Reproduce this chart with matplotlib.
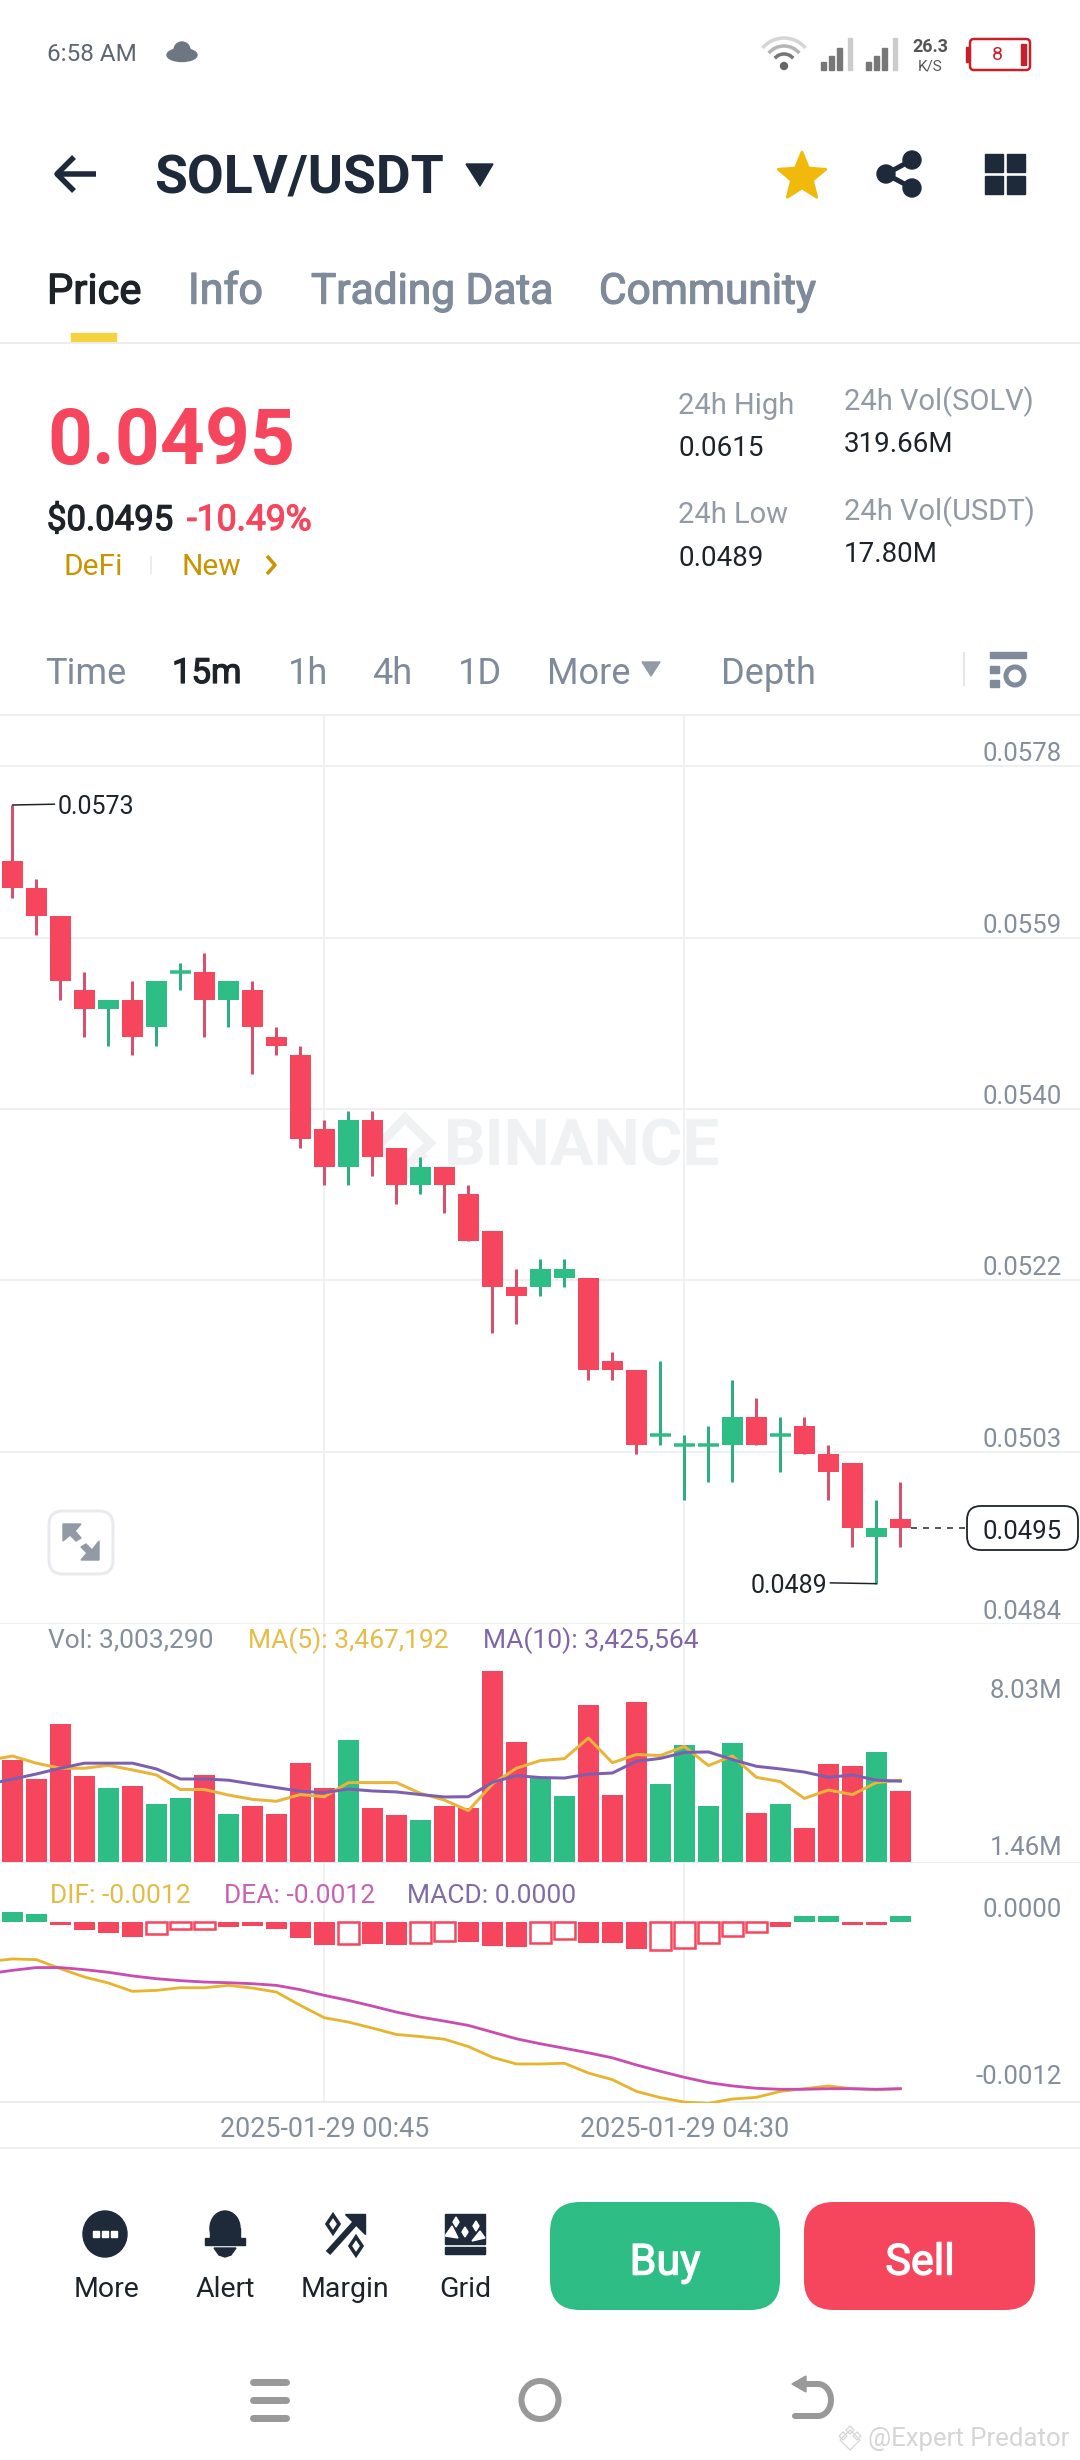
import numpy as np
import matplotlib
matplotlib.use('Agg')
import matplotlib.pyplot as plt
import matplotlib.patheffects as pe
from matplotlib.patches import FancyBboxPatch, Circle, Ellipse, Rectangle, Polygon, Arc
from matplotlib.transforms import Affine2D

plt.rcParams['font.family'] = ['Roboto', 'DejaVu Sans']

W, H = 1080, 2460

# candles
opens = [0.0567, 0.0564, 0.0561, 0.0553, 0.0551, 0.0552, 0.0549, 0.0555, 0.0555, 0.0552,
         0.0553, 0.0548, 0.0546, 0.0538, 0.0534, 0.0539, 0.0536, 0.0532, 0.0534, 0.0531,
         0.0527, 0.0521, 0.0521, 0.0522, 0.0522, 0.0513, 0.0512, 0.0505, 0.0504, 0.0504,
         0.0504, 0.0507, 0.0505, 0.0506, 0.0503, 0.0502, 0.0494, 0.0496]
closes = [0.0564, 0.0561, 0.0554, 0.0551, 0.0552, 0.0548, 0.0554, 0.0555, 0.0552, 0.0554,
          0.0549, 0.0547, 0.0537, 0.0534, 0.0539, 0.0535, 0.0532, 0.0534, 0.0532, 0.0526,
          0.0521, 0.0520, 0.0523, 0.0523, 0.0512, 0.0512, 0.0504, 0.0505, 0.0504, 0.0504,
          0.0507, 0.0504, 0.0505, 0.0503, 0.0501, 0.0495, 0.0495, 0.0495]
highs = [0.0573, 0.0565, 0.0561, 0.0555, 0.0552, 0.0554, 0.0554, 0.0556, 0.0557, 0.0554,
         0.0554, 0.0549, 0.0547, 0.0539, 0.0540, 0.0540, 0.0536, 0.0535, 0.0534, 0.0532,
         0.0527, 0.0523, 0.0524, 0.0524, 0.0522, 0.0514, 0.0512, 0.0513, 0.0505, 0.0506,
         0.0511, 0.0509, 0.0507, 0.0507, 0.0504, 0.0502, 0.0498, 0.0500]
lows = [0.0563, 0.0559, 0.0552, 0.0548, 0.0547, 0.0546, 0.0547, 0.0553, 0.0548, 0.0549,
        0.0544, 0.0546, 0.0536, 0.0532, 0.0532, 0.0533, 0.0530, 0.0531, 0.0529, 0.0526,
        0.0516, 0.0517, 0.0520, 0.0521, 0.0511, 0.0511, 0.0503, 0.0504, 0.0498, 0.0500,
        0.0500, 0.0504, 0.0501, 0.0503, 0.0498, 0.0493, 0.0489, 0.0493]
is_up = [0, 0, 0, 0, 1, 0, 1, 1, 0, 1, 0, 0, 0, 0, 1, 0, 0, 1, 0, 0,
         0, 0, 1, 1, 0, 0, 0, 1, 1, 1, 1, 0, 1, 0, 0, 0, 1, 0]

price_ticks = [0.05772, 0.05587, 0.05402, 0.05218, 0.05032, 0.04847]
price_labels = ['0.0578', '0.0559', '0.0540', '0.0522', '0.0503', '0.0484']

# volume in millions
volume = [4.31, 3.53, 5.82, 3.65, 3.15, 3.24, 2.49, 2.74, 3.69, 2.05,
          2.41, 2.05, 4.20, 3.13, 5.15, 2.30, 2.03, 1.81, 2.41, 2.31,
          8.03, 5.08, 3.59, 2.81, 6.60, 2.84, 6.75, 3.33, 4.93, 2.41,
          5.02, 2.10, 2.49, 1.46, 4.15, 4.08, 4.65, 3.00]
# the two averages and DIF/DEA have one more point, left of the first candle
ma5 = [4.30, 4.48, 4.18, 3.97, 3.97, 4.09, 3.90, 3.69, 3.08, 3.08, 2.85,
       2.67, 2.59, 2.87, 2.78, 3.37, 3.37, 3.37, 2.92, 2.64, 2.20,
       3.31, 3.97, 4.29, 4.37, 5.23, 4.20, 4.54, 4.50, 4.88, 4.08,
       4.48, 3.59, 3.41, 2.71, 3.06, 2.87, 3.37, 3.47]
ma10 = [3.31, 3.51, 3.73, 3.97, 4.18, 4.18, 4.18, 3.94, 3.52, 3.52, 3.47,
        3.31, 3.16, 3.01, 2.95, 3.10, 3.02, 2.98, 2.87, 2.77, 2.78,
        3.38, 3.66, 3.58, 3.56, 3.72, 3.77, 4.26, 4.38, 4.63, 4.65,
        4.33, 4.05, 3.94, 3.81, 3.59, 3.69, 3.47, 3.43]

# MACD panel, all in units of 0.0001
dif = [-2.86, -2.67, -2.72, -3.37, -3.97, -4.40, -5.00, -4.93, -4.74, -4.74, -4.57,
       -4.76, -5.05, -6.01, -6.90, -7.21, -7.64, -8.10, -8.25, -8.44, -8.97,
       -9.74, -10.22, -10.22, -10.17, -10.87, -11.35, -12.19, -12.64, -12.96, -13.05,
       -12.74, -12.62, -12.19, -12.00, -11.80, -12.00, -12.07, -12.00]
dea = [-3.73, -3.49, -3.29, -3.29, -3.44, -3.63, -3.89, -4.09, -4.23, -4.33, -4.38,
       -4.45, -4.57, -4.88, -5.29, -5.65, -6.06, -6.49, -6.85, -7.14, -7.45,
       -7.93, -8.41, -8.77, -9.09, -9.42, -9.78, -10.29, -10.75, -11.18, -11.56,
       -11.80, -11.97, -12.04, -12.04, -12.00, -12.00, -12.04, -12.00]
macd = [0.72, 0.53, -0.20, -0.60, -0.79, -1.11, -0.89, -0.55, -0.50, -0.36,
        -0.31, -0.50, -1.15, -1.66, -1.59, -1.59, -1.66, -1.51, -1.37, -1.47,
        -1.75, -1.83, -1.56, -1.23, -1.49, -1.56, -1.95, -2.00, -1.85, -1.54,
        -0.99, -0.70, -0.34, 0.41, 0.41, -0.20, -0.20, 0.41]
macd_hollow = [6, 7, 8, 14, 17, 18, 22, 23, 27, 28, 29, 30, 31]

time_ticks = [13, 28]
time_labels = ['2025-01-29 00:45', '2025-01-29 04:30']

GREEN = '#2EBD85'
RED = '#F6465D'
DARK = '#1E2329'
NAVY = '#1E2A3A'
GREY = '#848E9C'
GRID = '#EEF0F2'
BAR_W = 0.875


def px(n):
    return n * 72 / 100


def add_panel(y0, y1):
    ax = fig.add_axes([0, 1 - y1 / H, 1, (y1 - y0) / H])
    ax.set_xlim(-12.4 / 24, (W - 12.4) / 24)
    ax.patch.set_alpha(0)
    for s in ax.spines.values():
        s.set_visible(False)
    ax.set_xticks(time_ticks)
    ax.set_xticklabels([])
    ax.tick_params(length=0)
    ax.yaxis.tick_right()
    ax.grid(True, color=GRID, lw=px(2))
    ax.set_axisbelow(True)
    return ax


def right_labels(ax, ticks, labels, va):
    ax.set_yticks(ticks)
    ax.set_yticklabels(labels, ha='right', va=va, color=GREY, fontsize=18.5)
    ax.tick_params(axis='y', pad=-px(18))


def pixel_axes(zorder):
    ax = fig.add_axes([0, 0, 1, 1], zorder=zorder)
    ax.set_xlim(0, W)
    ax.set_ylim(H, 0)
    ax.axis('off')
    ax.patch.set_alpha(0)
    return ax


fig = plt.figure(figsize=(W / 100, H / 100), dpi=100, facecolor='white')
x = np.arange(len(opens))
colors = [GREEN if u else RED for u in is_up]
wick_colors = ['#2FAE80' if u else '#D9506A' for u in is_up]

# BINANCE watermark sits under the candles
bg = pixel_axes(-1)
MARK = '#EFF1F2'
bg.text(444, 1148, 'BINANCE', color=MARK, fontsize=47, fontweight='bold', va='center')
bg.plot([378, 405, 430, 405], [1146, 1118, 1143, 1168], color=MARK, lw=px(9), solid_joinstyle='miter')
bg.plot([378, 406], [1146, 1174], color=MARK, lw=px(9))
bg.add_patch(Polygon([(419, 1148), (427, 1156), (419, 1164), (411, 1156)], color=MARK))

# price panel
ax_p = add_panel(716, 1624)
ax_p.set_ylim(0.0573 - (1624 - 805) / 9.27 * 0.0001, 0.0573 + (805 - 716) / 9.27 * 0.0001)
right_labels(ax_p, price_ticks, price_labels, 'bottom')
ax_p.vlines(x, lows, highs, color=wick_colors, lw=px(3), zorder=3)
body_low = np.minimum(opens, closes)
body_h = np.abs(np.array(opens) - np.array(closes))
ax_p.bar(x, body_h, bottom=body_low, width=BAR_W, color=colors, lw=0, zorder=4)
doji = body_h == 0
ax_p.hlines(np.array(opens)[doji], x[doji] - BAR_W / 2, x[doji] + BAR_W / 2,
            color=GREEN, lw=px(3.5), zorder=4)
ax_p.annotate('0.0573', xy=(0, 0.0573), xytext=(45, -2), textcoords='offset pixels', va='center',
              color=DARK, fontsize=18, arrowprops=dict(arrowstyle='-', color=DARK, lw=px(1.5), shrinkA=0, shrinkB=0,
                                                       relpos=(0, 0.62)))
ax_p.annotate('0.0489', xy=(36, 0.0489), xytext=(-49, -2), textcoords='offset pixels', va='center', ha='right',
              color=DARK, fontsize=18, arrowprops=dict(arrowstyle='-', color=DARK, lw=px(1.5), shrinkA=0, shrinkB=0,
                                                       relpos=(1, 0.62)))
ax_p.hlines(closes[-1], 37.45, 39.7, color=DARK, lw=px(1.5), linestyles=(0, (4, 4)), zorder=3)

# volume panel
ax_v = add_panel(1624, 1863.3)
ax_v.set_ylim(0, (1863.3 - 1624) / 23.95)
right_labels(ax_v, [8.03, 1.46], ['8.03M', '1.46M'], 'top')
for t in ax_v.get_yticklabels():
    t.set_transform(t.get_transform() + Affine2D().translate(0, -8))
ax_v.yaxis.grid(False)
ax_v.bar(x, volume, width=BAR_W, color=colors, lw=0, zorder=2)
ax_v.plot(np.arange(-1, 38), ma5, color='#E8B53A', lw=px(3), zorder=3)
ax_v.plot(np.arange(-1, 38), ma10, color='#7D5FB2', lw=px(3), zorder=4)
ax_v.axhline(0, color='#EAECEF', lw=px(2))

# macd panel
ax_m = add_panel(1863.3, 2103)
ax_m.set_ylim(-(2103 - 1921.8) / 13.91, (1921.8 - 1863.3) / 13.91)
right_labels(ax_m, [0, -12], ['0.0000', '-0.0012'], 'bottom')
ax_m.yaxis.grid(False)
for i, v in enumerate(macd):
    if i in macd_hollow:
        ax_m.bar(i, v, width=BAR_W, facecolor='white', edgecolor=RED, lw=px(2.5), zorder=2)
    else:
        ax_m.bar(i, v, width=BAR_W, color=GREEN if v > 0 else RED, lw=0, zorder=2)
ax_m.plot(np.arange(-1, 38), dif, color='#E6B52E', lw=px(2.8), zorder=3)
ax_m.plot(np.arange(-1, 38), dea, color='#C94DB0', lw=px(2.8), zorder=4)
ax_m.axhline((1921.8 - 2103) / 13.91 + 0.05, color='#EAECEF', lw=px(2))
ax_m.set_xticklabels(time_labels, color=GREY, fontsize=19.4)
ax_m.tick_params(axis='x', pad=px(13))

# everything that is app chrome, in pixel coordinates
ui = pixel_axes(5)


def label(xp, yp, s, color=DARK, size=20, weight='normal', ha='left'):
    effects = None
    if weight == 'medium':
        # Roboto has no usable medium here, so thicken the regular cut
        effects = [pe.withStroke(linewidth=0.9, foreground=color)]
        weight = 'normal'
    ui.text(xp, yp + 0.1 * size, s, color=color, fontsize=size, fontweight=weight, ha=ha, va='center',
            path_effects=effects)


def seg(xs, ys, color=NAVY, lw=5, cap='butt'):
    ui.plot(xs, ys, color=color, lw=px(lw), solid_capstyle=cap, solid_joinstyle='round')


def round_box(x0, y0, x1, y1, r, **kw):
    ui.add_patch(FancyBboxPatch((x0 + r, y0 + r), x1 - x0 - 2 * r, y1 - y0 - 2 * r,
                                boxstyle='round,pad=%g,rounding_size=%g' % (r, r), **kw))


# status bar
label(47, 53, '6:58 AM', '#5E6673', 17.5)
ui.add_patch(Ellipse((182, 55), 30, 13, color='#6E7681'))
ui.add_patch(Circle((182, 50), 8, color='#6E7681'))
for r, c in [(12, '#777777'), (20, '#B5B5B5'), (28, '#D5D5D5')]:
    ui.add_patch(Arc((784, 66), 2 * r, 2 * r, theta1=220, theta2=320, color=c, lw=px(3.5)))
ui.add_patch(Circle((784, 66), 3.5, color='#666666'))
for x0 in (821, 866):
    for k, h in enumerate((8, 14, 22)):
        ui.add_patch(Rectangle((x0 + 8 * k, 70 - h), 5, h, color='#777777'))
    ui.add_patch(Rectangle((x0 + 27, 38), 4, 32, color='#CCCCCC'))
label(930, 46, '26.3', '#555555', 13, 'bold', 'center')
label(930, 65, 'K/S', '#555555', 11, 'normal', 'center')
round_box(970, 39, 1030, 70, 4, fc='white', ec='#C8202A', lw=px(2.5))
ui.add_patch(Rectangle((966, 47), 3, 15, color='#C8202A'))
ui.add_patch(Rectangle((1021, 44), 5, 21, color='#C8202A'))
label(997, 54, '8', '#C8202A', 14, 'normal', 'center')

# header
seg([58, 96], [174, 174], lw=5.5)
seg([74, 57, 74], [157, 174, 191], lw=5.5)
label(154, 175, 'SOLV/USDT', NAVY, 38.5, 'bold')
ui.add_patch(Polygon([(466, 164), (493, 164), (480, 186)], color=NAVY))
ang = np.deg2rad(np.arange(10) * 36 - 90)
rad = np.where(np.arange(10) % 2 == 0, 25, 11)
ui.add_patch(Polygon(np.c_[802 + rad * np.cos(ang), 177 + rad * np.sin(ang)], color='#F0B90B', joinstyle='round', lw=2))
seg([912, 886, 912], [160, 174, 188], lw=5)
for cx, cy in [(886, 174), (912, 160), (912, 188)]:
    ui.add_patch(Circle((cx, cy), 9, color=NAVY))
for sx, sy in [(985, 154), (1007, 154), (985, 176), (1007, 176)]:
    ui.add_patch(Rectangle((sx, sy), 18, 18, color=NAVY))

# tabs
label(47, 289, 'Price', DARK, 30, 'medium')
label(188, 289, 'Info', '#7F8A9A', 31, 'medium')
label(311, 289, 'Trading Data', '#7F8A9A', 30.5, 'medium')
label(599, 289, 'Community', '#7F8A9A', 30.5, 'medium')
ui.add_patch(Rectangle((71, 333), 45, 9, color='#F5D33F'))
seg([0, W], [343, 343], '#EAECEF', 2)

# price block
label(47, 437, '0.0495', RED, 56.5, 'bold')
label(47, 518, '$0.0495', DARK, 25, 'medium')
label(187, 518, '-10.49%', RED, 25.5, 'medium')
label(63, 565, 'DeFi', '#C99400', 21.5)
seg([151, 151], [556, 574], '#EAECEF', 2)
label(182, 565, 'New', '#C99400', 21.5)
seg([267, 275, 267], [556, 565, 574], '#C99400', 3.5)
label(678, 404, '24h High', '#929AA5', 21)
label(678, 446, '0.0615', DARK, 20)
label(678, 513, '24h Low', '#929AA5', 21)
label(678, 556, '0.0489', DARK, 20)
label(844, 400, '24h Vol(SOLV)', '#929AA5', 21)
label(844, 443, '319.66M', DARK, 20)
label(844, 510, '24h Vol(USDT)', '#929AA5', 21)
label(844, 552, '17.80M', DARK, 20)

# interval row
for xp, s in [(45, 'Time'), (288, '1h'), (372, '4h'), (458, '1D'), (547, 'More'), (721, 'Depth')]:
    label(xp, 671, s, '#7F8A9A', 26)
label(172, 671, '15m', DARK, 25, 'medium')
ui.add_patch(Polygon([(642, 662), (660, 662), (651, 676)], color='#929AA5'))
seg([964, 964], [652, 686], '#E3E6EA', 2)
ui.add_patch(Rectangle((990, 652), 36, 6, color='#7F8A9A'))
ui.add_patch(Rectangle((990, 666), 9, 7, color='#7F8A9A'))
ui.add_patch(Rectangle((990, 680), 9, 7, color='#7F8A9A'))
ui.add_patch(Circle((1015, 676), 9, fc='white', ec='#7F8A9A', lw=px(5)))
seg([0, W], [715, 715], '#EEF0F2', 2)

# last price tag and expand button
round_box(967, 1506, 1078, 1550, 14, fc='white', ec=DARK, lw=px(1.8))
label(1022, 1530, '0.0495', DARK, 18.5, 'normal', 'center')
round_box(49, 1511, 113, 1574, 14, fc='white', ec='#E8EAED', lw=px(3))
ui.add_patch(Polygon([(63, 1524), (81, 1524), (75, 1531), (81, 1538), (76, 1541), (70, 1535), (63, 1541)], color='#929AA5'))
ui.add_patch(Polygon([(99, 1560), (81, 1560), (87, 1553), (81, 1547), (86, 1544), (92, 1550), (99, 1541)], color='#929AA5'))

# indicator headers
label(48, 1639, 'Vol: 3,003,290', GREY, 19)
label(248, 1639, 'MA(5): 3,467,192', '#E5BC45', 19)
label(483, 1639, 'MA(10): 3,425,564', '#8065A8', 19)
label(50, 1894, 'DIF: -0.0012', '#E2BC45', 19)
label(224, 1894, 'DEA: -0.0012', '#C962B0', 19)
label(407, 1894, 'MACD: 0.0000', '#7E6BA8', 19)
seg([0, W], [2148, 2148], '#EEF0F2', 2)

# bottom toolbar
ui.add_patch(Ellipse((105, 2234), 44, 46, color=NAVY))
for sx in (93, 102, 111):
    ui.add_patch(Rectangle((sx, 2231), 6, 6, color='white'))
ui.add_patch(Ellipse((225, 2228), 30, 34, color=NAVY))
ui.add_patch(Rectangle((210, 2228), 30, 13, color=NAVY))
ui.add_patch(Rectangle((205, 2238), 40, 7, color=NAVY))
ui.add_patch(Polygon([(214, 2248), (236, 2248), (231, 2255), (225, 2257), (219, 2255)], color=NAVY))
seg([328, 356], [2253, 2222], lw=6)
ui.add_patch(Polygon([(345, 2214), (365, 2214), (365, 2234)], color=NAVY))
for cx, cy in [(333, 2224), (356, 2246)]:
    ui.add_patch(Polygon([(cx, cy - 9), (cx + 6, cy), (cx, cy + 9), (cx - 6, cy)], fc='white', ec=NAVY, lw=px(3.5)))
ui.add_patch(Rectangle((445, 2214), 40, 30, color=NAVY))
ui.add_patch(Rectangle((445, 2247), 40, 7, color=NAVY))
for cx, cy in [(456, 2222), (465, 2232), (476, 2226)]:
    ui.add_patch(Polygon([(cx, cy - 5), (cx + 3, cy), (cx, cy + 5), (cx - 3, cy)], color='white'))
ui.add_patch(Polygon([(445, 2236), (452, 2226), (458, 2238)], color='white'))
ui.add_patch(Polygon([(485, 2238), (480, 2231), (472, 2241)], color='white'))
for cx, s in [(106, 'More'), (225, 'Alert'), (345, 'Margin'), (465, 'Grid')]:
    label(cx, 2287, s, DARK, 20.5, 'normal', 'center')
round_box(550, 2202, 780, 2310, 30, fc=GREEN, ec='none')
round_box(804, 2202, 1035, 2310, 30, fc=RED, ec='none')
label(665, 2260, 'Buy', 'white', 31, 'medium', 'center')
label(920, 2260, 'Sell', 'white', 31, 'medium', 'center')

# android nav bar
for yp in (2382, 2400, 2418):
    seg([253, 286], [yp, yp], '#999999', 7, 'round')
ui.add_patch(Ellipse((540, 2400), 37, 38, fc='none', ec='#999999', lw=px(6)))
tt = np.linspace(-np.pi / 2, np.pi / 2, 30)
seg(np.r_[797, 818 + 13 * np.cos(tt), 795], np.r_[2384, 2400 + 16 * np.sin(tt), 2416], '#999999', 6, 'round')
ui.add_patch(Polygon([(792, 2384), (806, 2376), (806, 2392)], color='#999999'))

# repost watermark
for cx, cy, r in [(850, 2440, 10), (843, 2436, 4), (857, 2436, 4), (850, 2430, 4)]:
    ui.add_patch(Polygon([(cx, cy - r), (cx + r, cy), (cx, cy + r), (cx - r, cy)], fc='none', ec='#D5D5D5', lw=px(1.2)))
label(868, 2437, '@Expert Predator', '#D5D5D5', 18.5)

fig.savefig('out.png', dpi=100, facecolor='white')
